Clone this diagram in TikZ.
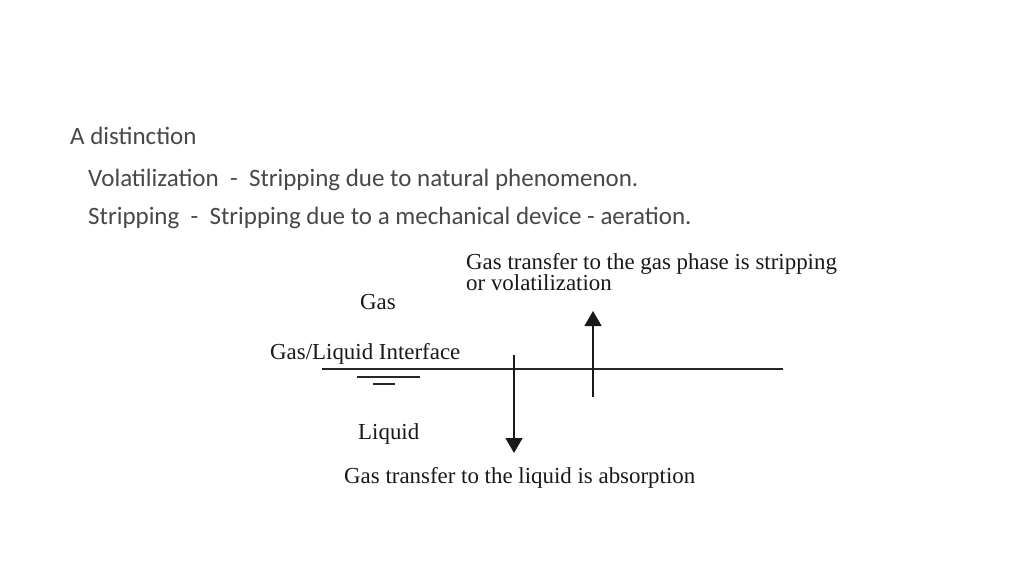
\documentclass[tikz,border=0pt]{standalone}
\usepackage{fontspec}
\setmainfont{Liberation Serif}
\newfontfamily\slidefont{Carlito}
\usetikzlibrary{arrows.meta}
\definecolor{slidetext}{HTML}{484848}
\begin{document}
\begin{tikzpicture}[x=1pt,y=-1pt,
  slide/.style={anchor=base west,inner sep=0pt,font=\slidefont\fontsize{25}{29}\selectfont,text=slidetext},
  lab/.style={anchor=base west,inner sep=0pt,font=\fontsize{22.9}{26}\selectfont,text=black!90},
  ln/.style={line width=1.3pt,black!85},
  arr/.style={line width=1.4pt,black!90,-{Triangle[length=15pt,width=17pt]}}]
\useasboundingbox[fill=white] (0,0) rectangle (1024,576);
\node[slide] (t1) at (70,144) {A distinction};
\node[slide] (t2) at (88,186) {Volatilization\ \ -\ \ Stripping due to natural phenomenon.};
\node[slide] (t3) at (88,224) {Stripping\ \ -\ \ Stripping due to a mechanical device - aeration.};
\node[lab] (gp) at (466,269) {Gas transfer to the gas phase is stripping};
\node[lab] (gp2) at (466,290) {or volatilization};
\node[lab] (gas) at (360,309) {Gas};
\node[lab] (gli) at (270,359) {Gas/Liquid Interface};
\node[lab] (liq) at (358,439) {Liquid};
\node[lab] (abs) at (344,483) {Gas transfer to the liquid is absorption};
\coordinate (il) at (322,369);
\coordinate (ir) at (783,369);
\draw[ln] (il) -- (ir);
\coordinate (s1a) at (357,377); \coordinate (s1b) at (420,377);
\coordinate (s2a) at (373,384); \coordinate (s2b) at (395,384);
\draw[ln] (s1a) -- (s1b);
\draw[ln] (s2a) -- (s2b);
\coordinate (da) at (514,355); \coordinate (db) at (514,453);
\draw[arr] (da) -- (db);
\coordinate (ua) at (593,397); \coordinate (ub) at (593,311);
\draw[arr] (ua) -- (ub);
\end{tikzpicture}
\end{document}
